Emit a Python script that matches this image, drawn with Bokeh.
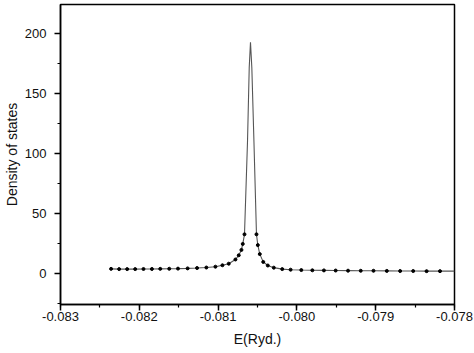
from bokeh.plotting import figure
from bokeh.models import Range1d, SingleIntervalTicker, PrintfTickFormatter
from bokeh.embed import file_html
from bokeh.resources import INLINE

dots_x = [-0.082358, -0.082256, -0.082154, -0.082052, -0.081947, -0.081840,
          -0.081734, -0.081620, -0.081509, -0.081387, -0.081267, -0.081149,
          -0.081034, -0.080945, -0.080865, -0.080780, -0.080738, -0.080704,
          -0.080687, -0.080665,
          -0.080513, -0.080496, -0.080471, -0.080427, -0.080369, -0.080293,
          -0.080186, -0.080080, -0.079944, -0.079804, -0.079657, -0.079508,
          -0.079351, -0.079190, -0.079028, -0.078859, -0.078690, -0.078524,
          -0.078354, -0.078184]
dots_y = [4.2, 4.0, 4.0, 4.0, 4.1, 4.1,
          4.2, 4.3, 4.4, 4.6, 4.9, 5.3,
          6.0, 7.2, 8.5, 12.0, 15.5, 20.0,
          25.0, 33.0,
          33.0, 24.0, 16.5, 10.0, 7.0, 5.2,
          4.0, 3.5, 3.2, 3.0, 2.9, 2.8,
          2.7, 2.6, 2.6, 2.5, 2.4, 2.4,
          2.3, 2.3]

# Extra points on the continuous curve (peak region and right end)
peak_x = [-0.080627, -0.080605, -0.080589, -0.080572, -0.080545, -0.078000]
peak_y = [110.0, 172.0, 193.0, 172.0, 110.0, 2.3]

x_ticks_interval = 0.001
y_ticks_interval = 50

curve = sorted(zip(dots_x + peak_x, dots_y + peak_y))
curve_x = [c[0] for c in curve]
curve_y = [c[1] for c in curve]

p = figure(width=474, height=353, output_backend="svg", toolbar_location=None,
           x_range=Range1d(-0.083, -0.078), y_range=Range1d(-25.5, 224.5),
           min_border_left=60, min_border_right=20, min_border_top=4,
           min_border_bottom=49)

p.line(curve_x, curve_y, line_color="#555555", line_width=1.1)
p.scatter(dots_x, dots_y, size=3, fill_color="black", line_color="black")

p.xgrid.visible = False
p.ygrid.visible = False
p.outline_line_color = "black"
p.outline_line_width = 1.5
p.background_fill_color = "white"
p.border_fill_color = "white"

xa = p.xaxis[0]
xa.ticker = SingleIntervalTicker(interval=x_ticks_interval, num_minor_ticks=2)
xa.formatter = PrintfTickFormatter(format="%.3f")
ya = p.yaxis[0]
ya.ticker = SingleIntervalTicker(interval=y_ticks_interval, num_minor_ticks=2)

for ax in (xa, ya):
    ax.axis_line_color = "black"
    ax.axis_line_width = 1.5
    ax.major_tick_line_color = "black"
    ax.major_tick_line_width = 1.5
    ax.minor_tick_line_color = "black"
    ax.minor_tick_line_width = 1.2
    ax.major_tick_in = 0
    ax.major_tick_out = 6
    ax.minor_tick_in = 0
    ax.minor_tick_out = 3
    ax.major_label_text_font = "Liberation Sans"
    ax.major_label_text_font_size = "13px"
    ax.major_label_text_color = "#111111"
    ax.axis_label_text_font = "Liberation Sans"
    ax.axis_label_text_font_size = "14px"
    ax.axis_label_text_font_style = "normal"
    ax.axis_label_text_color = "#111111"

xa.axis_label = "E(Ryd.)"
xa.major_label_standoff = 1
xa.axis_label_standoff = 7
ya.axis_label = "Density of states"
ya.major_label_standoff = 8
ya.axis_label_standoff = 2

open("out.html", "w").write(file_html(p, INLINE))
